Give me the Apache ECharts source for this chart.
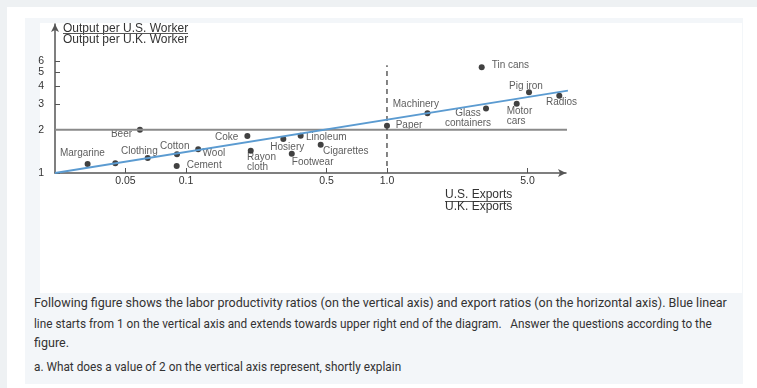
<!DOCTYPE html>
<html><head><meta charset="utf-8">
<script src="https://cdn.jsdelivr.net/npm/echarts@6/dist/echarts.min.js"></script>
<style>
html,body{margin:0;padding:0;width:757px;height:388px;overflow:hidden;background:#fff;}
#topbar{position:absolute;left:0;top:0;width:757px;height:7px;background:#eef1f3;}
#leftbar{position:absolute;left:0;top:0;width:7px;height:388px;background:#eef1f3;}
#panel{position:absolute;left:25px;top:18px;width:718px;height:366px;background:#f3f6f9;}
#img{position:absolute;left:40px;top:23px;width:702px;height:270px;background:#fff;}
.q{position:absolute;left:34px;font-family:Roboto,sans-serif;font-size:13px;color:#333;line-height:16px;white-space:nowrap;transform-origin:0 50%;}
.q span{display:inline-block;}
#chart{position:absolute;left:0;top:0;width:757px;height:388px;}
</style></head>
<body>
<div id="topbar"></div><div id="leftbar"></div>
<div id="panel"></div><div id="img"></div>
<div class="q" style="top:295px" data-w="693"><span>Following figure shows the labor productivity ratios (on the vertical axis) and export ratios (on the horizontal axis). Blue linear</span></div>
<div class="q" style="top:316px" data-w="678"><span>line starts from 1 on the vertical axis and extends towards upper right end of the diagram.&nbsp;&nbsp; Answer the questions according to the</span></div>
<div class="q" style="top:335px" data-w="0"><span>figure.</span></div>
<div class="q" style="top:359px" data-w="367"><span>a. What does a value of 2 on the vertical axis represent, shortly explain</span></div>
<div id="chart"></div>
<script>
// ---- data ----
const industries = ['Margarine','','Clothing','Beer','Cotton','Cement','Wool','Coke','Rayon\ncloth','Hosiery','Footwear','Linoleum','Cigarettes','Paper','Machinery','Glass\ncontainers','Motor\ncars','Tin cans','Pig iron','Radios'];
const exportRatio = [0.0324,0.0445,0.0645,0.059,0.0902,0.0899,0.115,0.202,0.21,0.305,0.336,0.372,0.468,1.0,1.59,3.11,4.42,2.96,5.09,7.2];
const productivityRatio = [1.155,1.168,1.271,2.0,1.349,1.118,1.461,1.807,1.428,1.722,1.361,1.816,1.573,2.13,2.6,2.81,3.02,5.42,3.63,3.44];
const yTicks = [1,2,3,4,5,6];
const xTicks = [0.05,0.1,0.5,1,5];
const xTickLabels = ['0.05','0.1','0.5','1.0','5.0'];
const trendX = [0.0223, 7.95];
const trendY = [1, 3.73];
const refLineY = 2;
const refLineX = [0.0223, 7.87];
const dashX = 1;
const dashY = [1.12, 5.6];

// ---- label styling (offsets from dot centre) ----
const labelLayout = {
  'Margarine':[-27.7,-11,'left'], 'Clothing':[-26.7,-7,'left'], 'Beer':[-29,5,'left'],
  'Cotton':[-17,-8.3,'left'], 'Cement':[10,-1,'left'], 'Wool':[4.4,4,'left'],
  'Coke':[-32.3,1.3,'left'], 'Rayon\ncloth':[-3.7,11.3,'left'], 'Hosiery':[-13,8,'left'],
  'Footwear':[0,8.6,'left'], 'Linoleum':[5.3,1.6,'left'], 'Cigarettes':[2.3,6.6,'left'],
  'Paper':[8.7,-0.7,'left'], 'Machinery':[-34.7,-9,'left'], 'Glass\ncontainers':[-18,9.5,'center'],
  'Motor\ncars':[-10,12.2,'left'], 'Tin cans':[10,-2.3,'left'], 'Pig iron':[-20,-6.6,'left'],
  'Radios':[-13.3,7,'left']
};

// fit question text lines to the reference widths (offsetWidth ignores transforms)
function fitText(){
  let firstScale = 1;
  document.querySelectorAll('.q').forEach((e, i) => {
    const target = +e.dataset.w;
    const w = e.firstElementChild.offsetWidth;
    let s = target > 0 && w > 0 ? target / w : firstScale;
    if (i === 0) firstScale = s;
    e.style.transform = 'scaleX(' + s + ')';
  });
}
fitText();
if (document.fonts && document.fonts.ready) document.fonts.ready.then(fitText);

const FONT = '"Liberation Sans", Arial, sans-serif';
const chart = echarts.init(document.getElementById('chart'), null, {renderer:'canvas'});

const pts = industries.map((n, i) => {
  const lay = labelLayout[n];
  const d = {name: n, value: [exportRatio[i], productivityRatio[i]]};
  if (lay) {
    d.label = {show:true, position:'inside', align:lay[2], verticalAlign:'middle', offset:[lay[0], lay[1]]};
  } else {
    d.label = {show:false};
  }
  return d;
});

function xLabel(v){
  let best = 0, bd = Infinity;
  xTicks.forEach((t,i)=>{ const d = Math.abs(Math.log(v/t)); if (d<bd){bd=d;best=i;} });
  return xTickLabels[best];
}

chart.setOption({
  animation:false,
  backgroundColor:'transparent',
  grid:{left:55, right:191, top:24, bottom:215},
  xAxis:{
    type:'log', min:0.0223, max:7.775,
    axisLine:{show:true, symbol:['none','arrow'], symbolSize:[6,8], lineStyle:{color:'#555', width:1.5}},
    axisTick:{show:true, inside:true, length:5, customValues:xTicks, lineStyle:{color:'#555', width:1}},
    axisLabel:{customValues:xTicks, formatter:xLabel, fontSize:10.5, color:'#333', margin:3, fontFamily:FONT},
    splitLine:{show:false}, minorTick:{show:false}
  },
  yAxis:{
    type:'log', min:1, max:10.83,
    axisLine:{show:true, symbol:['none','arrow'], symbolSize:[6,8], lineStyle:{color:'#555', width:1.5}},
    axisTick:{show:true, inside:true, length:5, customValues:yTicks, lineStyle:{color:'#555', width:1}},
    axisLabel:{customValues:yTicks, formatter:v=>String(Math.round(v)), fontSize:10.5, color:'#333', margin:11, fontFamily:FONT},
    splitLine:{show:false}, minorTick:{show:false}
  },
  graphic:[
    {type:'text', x:63, y:22.5, style:{text:'Output per U.S. Worker', font:'12px '+FONT, fill:'#333', align:'left', verticalAlign:'top'}},
    {type:'line', shape:{x1:63, y1:33.5, x2:188, y2:33.5}, style:{stroke:'#555', lineWidth:1}},
    {type:'text', x:63, y:34, style:{text:'Output per U.K. Worker', font:'12px '+FONT, fill:'#333', align:'left', verticalAlign:'top'}},
    {type:'text', x:445, y:189, style:{text:'U.S. Exports', font:'12px '+FONT, fill:'#333', align:'left', verticalAlign:'top'}},
    {type:'line', shape:{x1:445, y1:201.5, x2:511, y2:201.5}, style:{stroke:'#555', lineWidth:1}},
    {type:'text', x:445, y:201, style:{text:'U.K. Exports', font:'12px '+FONT, fill:'#333', align:'left', verticalAlign:'top'}}
  ],
  series:[
    {type:'line', data:refLineX.map(x=>[x, refLineY]), symbol:'none', clip:false, silent:true,
     lineStyle:{color:'#8a8a8a', width:2}},
    {type:'line', data:dashY.map(y=>[dashX, y]), symbol:'none', clip:false, silent:true,
     lineStyle:{color:'#444', width:1.3, type:[5,4]}},
    {type:'line', data:trendX.map((x,i)=>[x, trendY[i]]), symbol:'none', clip:false, silent:true,
     lineStyle:{color:'#5b9bd1', width:1.8}},
    {type:'scatter', data:pts, symbol:'circle', symbolSize:6, clip:false,
     itemStyle:{color:'#111'},
     label:{formatter:p=>p.name, fontSize:10, color:'#333', fontFamily:FONT, lineHeight:10}}
  ]
});
</script>
</body></html>
